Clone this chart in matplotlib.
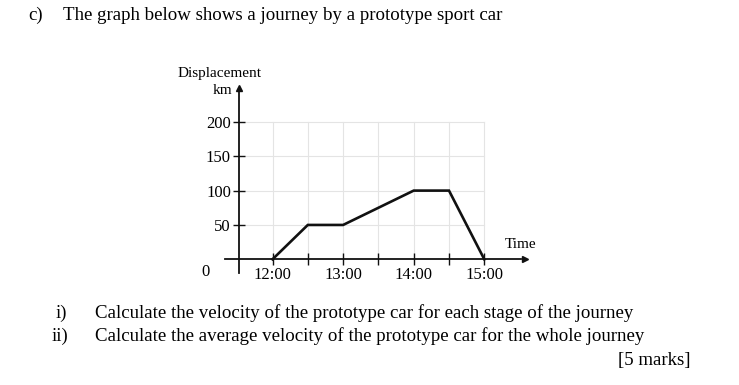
import matplotlib
matplotlib.use("Agg")
import matplotlib.pyplot as plt
import numpy as np

# Data
times = [12.0, 12.5, 13.0, 14.0, 14.5, 15.0]          # hours
displacement = [0, 50, 50, 100, 100, 0]                 # km
y_ticks = [50, 100, 150, 200]
x_major = [12, 13, 14, 15]
x_labels = ["12:00", "13:00", "14:00", "15:00"]
x_minor = [12.5, 13.5, 14.5]

W, H = 739, 385
fig = plt.figure(figsize=(W / 100, H / 100), dpi=100)

# pixel mapping
px_per_hour = 70.6
px_per_km = 0.687
x12_px = 272.5
y0_px = 259.3

def t_of(px):
    return 12 + (px - x12_px) / px_per_hour

def d_of(py):
    return (y0_px - py) / px_per_km

left_px, right_px, top_px, bot_px = 200, 540, 80, 285
ax = fig.add_axes([left_px / W, (H - bot_px) / H, (right_px - left_px) / W, (bot_px - top_px) / H])
ax.set_xlim(t_of(left_px), t_of(right_px))
ax.set_ylim(d_of(bot_px), d_of(top_px))
ax.patch.set_alpha(0)

yaxis_t = t_of(239.3)
serif = ["Liberation Serif", "DejaVu Serif"]

# grid
grid_c = "#e4e4e4"
for t in np.arange(12.0, 15.01, 0.5):
    ax.plot([t, t], [0, 200], color=grid_c, lw=0.8, zorder=0)
for d in y_ticks:
    ax.plot([yaxis_t, 15.0], [d, d], color=grid_c, lw=0.8, zorder=0)

# spines as axes
for s in ["top", "right"]:
    ax.spines[s].set_visible(False)
ax.spines["left"].set_position(("data", yaxis_t))
ax.spines["bottom"].set_position(("data", 0))
ax.spines["left"].set_bounds(d_of(273), d_of(92))
ax.spines["bottom"].set_bounds(t_of(225), t_of(521))
for s in ["left", "bottom"]:
    ax.spines[s].set_linewidth(1.3)
    ax.spines[s].set_color("#111111")

# arrow heads
ax.plot([t_of(525)], [0], marker=">", color="#111111", markersize=5, clip_on=False)
ax.plot([yaxis_t], [d_of(88)], marker="^", color="#111111", markersize=5, clip_on=False)

ax.set_yticks(y_ticks)
ax.set_yticklabels([str(v) for v in y_ticks], family=serif, fontsize=12)
ax.set_xticks(x_major)
ax.set_xticklabels(x_labels, family=serif, fontsize=12)
ax.set_xticks(x_minor, minor=True)
ax.tick_params(axis="both", which="both", direction="inout", length=8, width=1.0, color="#111111")
ax.tick_params(axis="y", pad=2)
ax.tick_params(axis="x", pad=1.5)

# line
ax.plot(times, displacement, color="#111111", lw=1.9, zorder=3, solid_joinstyle="miter")

fig.text(220 / W, (H - 73) / H, "Displacement", family=serif, fontsize=11, ha="center", va="center")
fig.text(222 / W, (H - 91) / H, "km", family=serif, fontsize=11, ha="center", va="center")
fig.text(521 / W, (H - 245) / H, "Time", family=serif, fontsize=11, ha="center", va="center")
fig.text(205 / W, (H - 272) / H, "0", family=serif, fontsize=12, ha="center", va="center")

fs = 13.6
fig.text(28 / W, (H - 15) / H, "c)", family=serif, fontsize=fs, ha="left", va="center")
fig.text(63 / W, (H - 15) / H, "The graph below shows a journey by a prototype sport car",
         family=serif, fontsize=fs, ha="left", va="center")
fig.text(56 / W, (H - 313) / H, "i)", family=serif, fontsize=fs, ha="left", va="center")
fig.text(95 / W, (H - 313) / H, "Calculate the velocity of the prototype car for each stage of the journey",
         family=serif, fontsize=fs, ha="left", va="center")
fig.text(52 / W, (H - 336) / H, "ii)", family=serif, fontsize=fs, ha="left", va="center")
fig.text(95 / W, (H - 336) / H, "Calculate the average velocity of the prototype car for the whole journey",
         family=serif, fontsize=fs, ha="left", va="center")
fig.text(690 / W, (H - 361) / H, "[5 marks]", family=serif, fontsize=fs, ha="right", va="center")

fig.savefig("out.png", dpi=100)
